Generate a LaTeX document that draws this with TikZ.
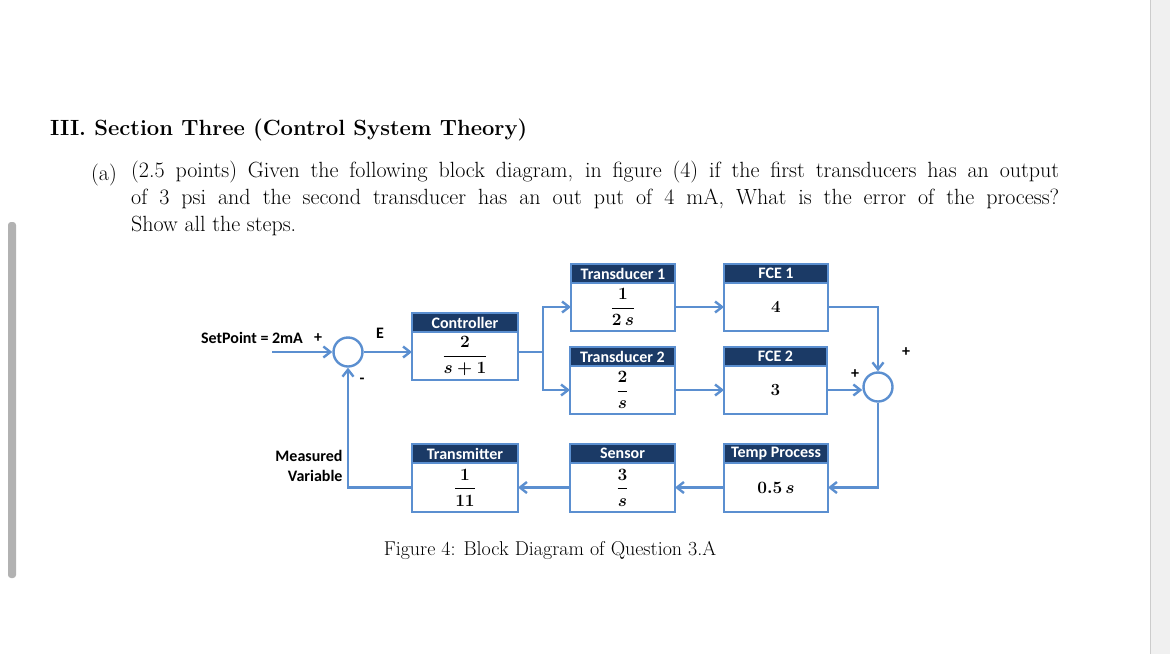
\documentclass[tikz,border=0pt]{standalone}
\usepackage{amsmath,amssymb,bm}
\usepackage{fontspec}
\newfontfamily\carl{Carlito}
\usetikzlibrary{arrows.meta}
\definecolor{lb}{HTML}{5B8FD0}
\definecolor{nv}{HTML}{1B3A66}
\tikzset{
 ln/.style={draw=lb,line width=2.4pt},
 ar/.style={ln,-{Straight Barb[length=7pt,width=11pt]}},
 hdr/.style={fill=nv,draw=lb,line width=1.6pt},
 bdy/.style={draw=lb,line width=2.4pt,fill=white},
 lab/.style={font=\carl\bfseries\fontsize{16}{19}\selectfont,inner sep=0pt},
 sumc/.style={circle,draw=lb,line width=2.4pt,minimum size=29pt,inner sep=0pt}
}
\newcommand{\blk}[7]{% name, x1,y1(top),x2,y2(bottom), title, content
 \path[hdr] (#2,#3) rectangle (#4,#3+19);
 \node[text=white,font=\carl\bfseries\fontsize{16}{18}\selectfont] (#1h) at ({(#2+#4)/2},#3+9.5) {#6};
 \draw[bdy] (#2,#3+19) rectangle (#4,#5);
 \coordinate (#1w) at (#2,{(#3+19+#5)/2});
 \coordinate (#1e) at (#4,{(#3+19+#5)/2});
 \node[font=\fontsize{17}{19}\selectfont] (#1) at ({(#2+#4)/2},{(#3+19+#5)/2}) {#7};
}
\begin{document}
\begin{tikzpicture}[x=1pt,y=-1pt]
\useasboundingbox (0,0) rectangle (1170,654);
\fill[white] (0,0) rectangle (1170,654);
\fill[gray!12] (1150,0) rectangle (1170,654);
\draw[gray!40] (1150,0) -- (1150,654);
\fill[gray!60,rounded corners=3pt] (8,222) rectangle (16,578);
\node[anchor=base west,inner sep=0pt,font=\fontsize{22}{27}\selectfont\bfseries] (h) at (50,135) {III. Section Three (Control System Theory)};
\node[anchor=base west,inner sep=0pt,font=\fontsize{22}{27}\selectfont] (pa) at (91,180) {(a)};
\node[anchor=north west,inner sep=0pt,text width=928pt,align=justify,font=\fontsize{22}{27}\selectfont] (pt) at (131,161) {(2.5 points) Given the following block diagram, in figure (4) if the first transducers has an output\linebreak of 3 psi and the second transducer has an out put of 4 mA, What is the error of the process?\linebreak Show all the steps.};
\node[anchor=base,inner sep=0pt,font=\fontsize{20}{24}\selectfont] (cap) at (550,555) {Figure 4: Block Diagram of Question 3.A};
\blk{c}{412}{313}{518}{380}{Controller}{$\bm{\dfrac{2}{s+1}}$}
\blk{ta}{571}{264}{675}{331}{Transducer 1}{$\bm{\dfrac{1}{2\,s}}$}
\blk{tb}{570}{347}{675}{414}{Transducer 2}{$\bm{\dfrac{2}{s}}$}
\blk{fa}{724}{264}{828}{331}{FCE 1}{\textbf{4}}
\blk{fb}{724}{347}{827}{414}{FCE 2}{\textbf{3}}
\blk{tr}{412}{444}{518}{512}{Transmitter}{$\bm{\dfrac{1}{11}}$}
\blk{se}{570}{444}{675}{512}{Sensor}{$\bm{\dfrac{3}{s}}$}
\blk{tp}{724}{444}{828}{512}{Temp Process}{$\bm{0.5\,s}$}
\node[sumc] (s1) at (348,352) {};
\node[sumc] (s2) at (878,387) {};
\coordinate (in) at (272,352);
\coordinate (br) at (543,352);
\draw[ar] (in) -- (s1);
\draw[ar] (s1) -- (s1 -| cw);
\draw[ln] (ce |- br) -- (br);
\draw[ar] (br) |- (taw);
\draw[ar] (br) |- (tbw);
\draw[ar] (tae) -- (faw);
\draw[ar] (tbe) -- (fbw);
\draw[ar] (fae) -| (s2);
\draw[ar] (fbe) -- (fbe -| s2.west);
\draw[ar] (s2) |- (tpe);
\draw[ar] (tpw) -- (see);
\draw[ar] (sew) -- (tre);
\draw[ar] (trw) -| (s1);
\node[lab] (sp) at (252,338) {SetPoint = 2mA};
\node[lab] (p1) at (318,338) {+};
\node[lab] (e) at (380,333) {E};
\node[lab] (m1) at (362,381) {-};
\node[lab,align=right] (mv) at (309,466) {Measured\\[1pt]Variable};
\node[lab] (p2) at (906,352) {+};
\node[lab] (p3) at (855,374) {+};
\end{tikzpicture}
\end{document}
